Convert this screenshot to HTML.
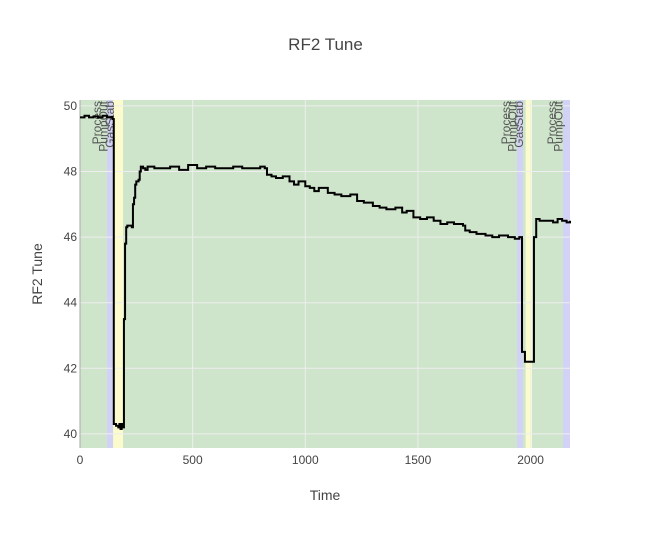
<!DOCTYPE html>
<html><head><meta charset="utf-8"><style>
body{margin:0;background:#fff;font-family:"Liberation Sans",sans-serif}
</style></head><body>
<svg id="c" width="651" height="528" xmlns="http://www.w3.org/2000/svg" font-family="Liberation Sans, sans-serif"></svg>
<script>
const regionStarts=[120,147,1940,1978,2144];
const regionEnds=[147,191,1966,2006,2175];
const regionTypes=["PumpOut","GasStab","PumpOut","GasStab","PumpOut"];
const labelTimes=[0,0,0,1940,1940,1940,2144,2144];
const labelNames=["Process","PumpOut","GasStab","Process","PumpOut","GasStab","Process","PumpOut"];
const xTicks=[0,500,1000,1500,2000];
const yTicks=[40,42,44,46,48,50];
const times=[0,20,40,60,80,100,120,140,145,150,160,170,175,180,185,190,195,200,205,210,230,235,240,245,250,260,265,270,280,290,300,330,360,400,440,480,520,560,600,640,680,720,760,800,820,830,850,870,900,930,950,970,1000,1020,1040,1060,1100,1130,1160,1200,1230,1260,1300,1330,1360,1400,1430,1450,1480,1510,1540,1570,1600,1630,1660,1700,1710,1730,1760,1800,1830,1860,1900,1930,1950,1958,1962,1975,1990,2010,2015,2025,2040,2060,2080,2100,2120,2140,2160,2175];
const values=[49.65,49.7,49.65,49.68,49.65,49.7,49.65,49.66,49.6,40.3,40.25,40.2,40.3,40.15,40.3,40.2,43.5,45.8,46.3,46.35,46.3,47.0,47.2,47.6,47.7,47.75,48.0,48.15,48.1,48.05,48.15,48.1,48.1,48.15,48.05,48.2,48.1,48.15,48.1,48.1,48.15,48.1,48.1,48.15,48.1,47.9,47.85,47.8,47.85,47.7,47.6,47.7,47.55,47.5,47.4,47.5,47.35,47.3,47.25,47.3,47.1,47.05,46.95,46.9,46.85,46.9,46.75,46.8,46.6,46.55,46.6,46.5,46.4,46.45,46.4,46.35,46.2,46.15,46.1,46.05,46.0,46.05,46.0,45.95,46.0,46.0,42.5,42.2,42.2,42.2,46.0,46.55,46.5,46.5,46.5,46.45,46.55,46.5,46.45,46.5];
const X0=80,X1=570,Y0=100,Y1=448,XMAX=2175,YMIN=39.57,YMAX=50.18;
const xs=t=>X0+(t/XMAX)*(X1-X0);
const ys=v=>Y1-(v-YMIN)/(YMAX-YMIN)*(Y1-Y0);
const svg=document.getElementById('c');const NS='http://www.w3.org/2000/svg';
function mk(tag,attrs,parent){const e=document.createElementNS(NS,tag);for(const k in attrs)e.setAttribute(k,attrs[k]);(parent||svg).appendChild(e);return e;}
const bg=mk('rect',{x:X0,y:Y0,width:X1-X0,height:Y1-Y0,fill:'#cee5cb'});


const colors={Process:'#cee5cb',PumpOut:'#d2d2f7',GasStab:'#fbfbcd'};
regionStarts.forEach((s,i)=>{const r=mk('rect',{x:xs(s),y:Y0,width:xs(regionEnds[i])-xs(s),height:Y1-Y0,fill:colors[regionTypes[i]]});

});
xTicks.forEach(t=>{const l=mk('line',{x1:xs(t),x2:xs(t),y1:Y0,y2:Y1,stroke:'#eee','stroke-width':1});


const tx=mk('text',{x:xs(t),y:Y1+16,'text-anchor':'middle','font-size':12,fill:'#444'});tx.textContent=t;

});
yTicks.forEach(v=>{const l=mk('line',{x1:X0,x2:X1,y1:ys(v),y2:ys(v),stroke:'#eee','stroke-width':1});


const tx=mk('text',{x:X0-3,y:ys(v)+4,'text-anchor':'end','font-size':12,fill:'#444'});tx.textContent=v;

});
const ax=mk('line',{x1:X0,x2:X0,y1:Y0,y2:Y1,stroke:'#aaa','stroke-width':1});


labelTimes.forEach((t,i)=>{const off=[0,1,2,0,1,2,0,1][i];const px=t===0?101+off*6.5:xs(t)-7+off*6.5;
const tx=mk('text',{x:0,y:0,transform:`translate(${px},${Y0+1}) rotate(-90)`,'text-anchor':'end','font-size':12,fill:'#555'});tx.textContent=labelNames[i];

});
let d='';times.forEach((t,i)=>{const x=xs(t),y=ys(values[i]);if(i===0)d+=`M${x},${y}`;else d+=`H${x}V${y}`;});
const p=mk('path',{d:d,fill:'none',stroke:'#000','stroke-width':2});


const ti=mk('text',{x:325.5,y:50,'text-anchor':'middle','font-size':17,fill:'#444'});ti.textContent='RF2 Tune';


const xt=mk('text',{x:325,y:500,'text-anchor':'middle','font-size':14,fill:'#444'});xt.textContent='Time';


const yt=mk('text',{x:0,y:0,transform:'translate(42,274) rotate(-90)','text-anchor':'middle','font-size':14,fill:'#444'});yt.textContent='RF2 Tune';


</script>
</body></html>
